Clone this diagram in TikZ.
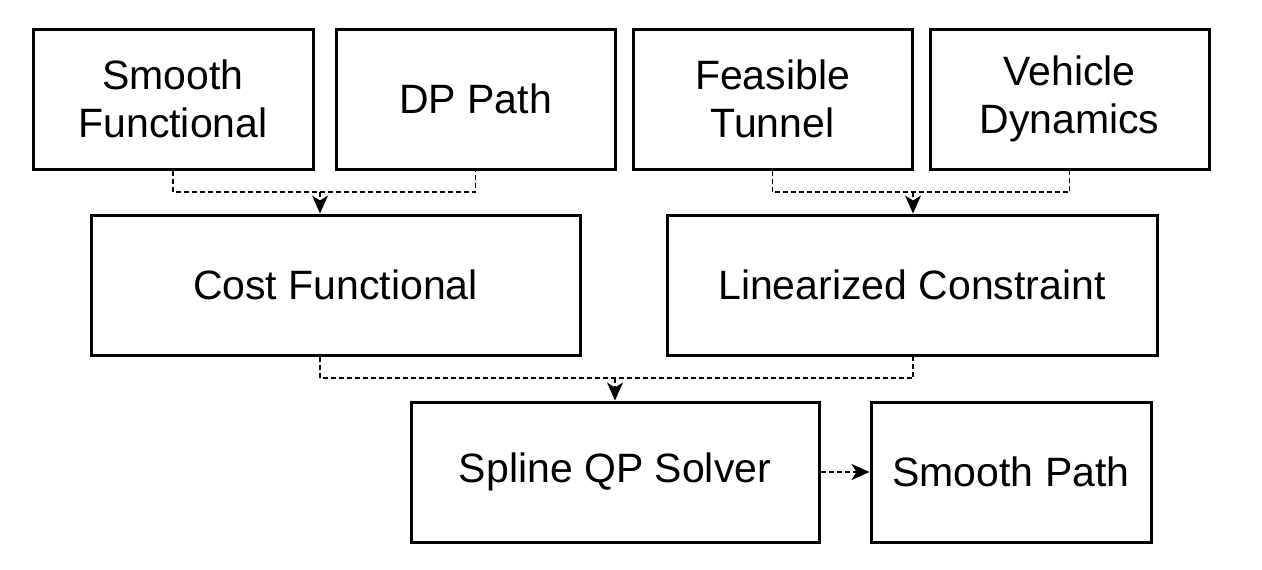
\documentclass[tikz,border=0pt]{standalone}
\usepackage{fontspec}
\setmainfont{Liberation Sans}
\usetikzlibrary{arrows.meta}
\begin{document}
\begin{tikzpicture}[x=1pt,y=-1pt,
  box/.style={draw,line width=3pt,inner sep=0pt,align=center,font=\fontsize{41}{48}\selectfont},
  con/.style={line width=1.5pt,dash pattern=on 5pt off 3pt},
  arr/.style={con,-{Stealth[length=18pt,width=16pt,inset=5pt]}}]
\useasboundingbox (0,0) rectangle (1262,570);
\node[box,minimum width=280pt,minimum height=140pt] (sf) at (173,99) {Smooth\\Functional};
\node[box,minimum width=279pt,minimum height=140pt] (dp) at (475.5,99) {DP Path};
\node[box,minimum width=279pt,minimum height=140pt] (ft) at (772.5,99) {Feasible\\Tunnel};
\node[box,minimum width=279pt,minimum height=140pt] (vd) at (1069.5,99) {Vehicle\\Dynamics};
\node[box,minimum width=489pt,minimum height=140pt] (cf) at (335.5,285) {Cost Functional};
\node[box,minimum width=490pt,minimum height=140pt] (lc) at (912,285) {Linearized Constraint};
\node[box,minimum width=408pt,minimum height=140pt] (qp) at (615,472) {Spline QP Solver};
\node[box,minimum width=280pt,minimum height=140pt] (sp) at (1011,472) {Smooth Path};
\coordinate (j1) at (320,192);
\coordinate (j2) at (913,192);
\coordinate (j3) at (615,378);
\draw[con] (sf.south) |- (j1) -| (dp.south);
\draw[arr] (j1) -- (j1 |- cf.north);
\draw[con] (ft.south) |- (j2) -| (vd.south);
\draw[arr] (j2) -- (j2 |- lc.north);
\draw[con] (cf.south -| j1) |- (j3) -| (lc.south -| j2);
\draw[arr] (j3) -- (qp.north);
\draw[arr] (qp.east) -- (sp.west);
\end{tikzpicture}
\end{document}
